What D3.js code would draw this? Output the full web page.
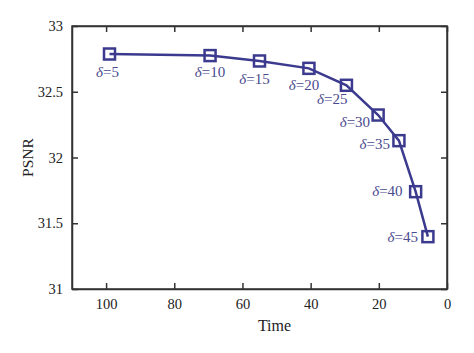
<!DOCTYPE html>
<html>
<head>
<meta charset="utf-8">
<script src="https://cdnjs.cloudflare.com/ajax/libs/d3/7.8.5/d3.min.js"></script>
<style>
  body { margin: 0; background: #fff; }
  text { font-family: "Liberation Serif", "DejaVu Serif", serif; }
</style>
</head>
<body>
<div id="chart"></div>
<script>
// data
const times = [99, 69.5, 55, 40.5, 29.5, 20.2, 14.1, 9.2, 5.6];
const psnr = [32.787, 32.775, 32.734, 32.678, 32.549, 32.323, 32.128, 31.74, 31.398];
const deltas = [5, 10, 15, 20, 25, 30, 35, 40, 45];
const xTicks = [100, 80, 60, 40, 20, 0];
const yTicks = [31, 31.5, 32, 32.5, 33];

// label offsets relative to each marker (dx, dy, anchor)
const labelOffsets = [
    [-2, 23, 'middle'], [0, 21, 'middle'], [-5, 23, 'middle'], [-5, 22, 'middle'],
    [1, 19, 'end'], [-8, 12, 'end'], [-9, 8, 'end'], [-13, 4, 'end'], [-10, 5, 'end']
];

const width = 474;
const height = 353;
const margin = { top: 26, right: 27, bottom: 64, left: 72 };
const w = width - margin.left - margin.right;
const h = height - margin.top - margin.bottom;
const color = '#3b3a8e';
const axisColor = '#333';

const svg = d3.select('#chart').append('svg')
    .attr('width', width)
    .attr('height', height)
  .append('g')
    .attr('transform', 'translate(' + margin.left + ',' + margin.top + ')');

const x = d3.scaleLinear().domain([110, 0]).range([0, w]);
const y = d3.scaleLinear().domain([31, 33]).range([h, 0]);

// axes, ticks pointing inward on all four sides
const fmt = d3.format('');
svg.append('g')
    .attr('transform', 'translate(0,' + h + ')')
    .call(d3.axisBottom(x).tickValues(xTicks).tickSizeInner(-6).tickSizeOuter(0).tickPadding(10).tickFormat(fmt));
svg.append('g')
    .call(d3.axisTop(x).tickValues(xTicks).tickSizeInner(-6).tickSizeOuter(0).tickFormat(''));
svg.append('g')
    .call(d3.axisLeft(y).tickValues(yTicks).tickSizeInner(-6).tickSizeOuter(0).tickPadding(9).tickFormat(fmt));
svg.append('g')
    .attr('transform', 'translate(' + w + ',0)')
    .call(d3.axisRight(y).tickValues(yTicks).tickSizeInner(-6).tickSizeOuter(0).tickFormat(''));

svg.selectAll('.domain, .tick line')
    .attr('stroke', axisColor)
    .attr('stroke-width', 1.5);
svg.selectAll('.tick text')
    .attr('fill', '#222')
    .style('font-size', '14.5px')
    .style('font-family', '"Liberation Serif", serif');

// box top/right lines
svg.append('rect')
    .attr('width', w).attr('height', h)
    .attr('fill', 'none')
    .attr('stroke', axisColor)
    .attr('stroke-width', 1.5);

// axis titles
svg.append('text')
    .attr('x', w / 2 + 15)
    .attr('y', h + 42)
    .attr('text-anchor', 'middle')
    .attr('fill', '#222')
    .style('font-size', '16px')
    .text('Time');
svg.append('text')
    .attr('transform', 'translate(' + (-39) + ',' + (h / 2) + ') rotate(-90)')
    .attr('text-anchor', 'middle')
    .attr('fill', '#222')
    .style('font-size', '15.5px')
    .text('PSNR');

const points = times.map((t, i) => ({ t: t, v: psnr[i], d: deltas[i], off: labelOffsets[i] }));

const line = d3.line()
    .x(d => x(d.t))
    .y(d => y(d.v));

svg.append('path')
    .datum(points)
    .attr('d', line)
    .attr('fill', 'none')
    .attr('stroke', color)
    .attr('stroke-width', 2.5);

const s = 11;
svg.selectAll('.marker')
    .data(points)
  .enter().append('rect')
    .attr('class', 'marker')
    .attr('x', d => x(d.t) - s / 2)
    .attr('y', d => y(d.v) - s / 2)
    .attr('width', s)
    .attr('height', s)
    .attr('fill', 'none')
    .attr('stroke', color)
    .attr('stroke-width', 2.5);

const labels = svg.selectAll('.lbl')
    .data(points)
  .enter().append('text')
    .attr('class', 'lbl')
    .attr('x', d => x(d.t) + d.off[0])
    .attr('y', d => y(d.v) + d.off[1])
    .attr('text-anchor', d => d.off[2])
    .attr('fill', '#4a4a8e')
    .style('font-size', '15px');
labels.append('tspan').style('font-style', 'italic').text('δ');
labels.append('tspan').text(d => '=' + d.d);
</script>
</body>
</html>
